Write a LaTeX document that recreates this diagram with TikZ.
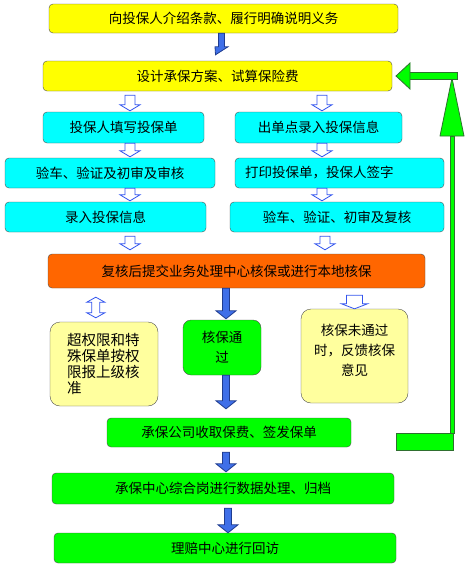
\documentclass[tikz,border=0pt]{standalone}
\usepackage{fontspec}
\newfontfamily\cjk{Noto Sans CJK SC}
\usetikzlibrary{calc}

\definecolor{boxyellow}{HTML}{FFFF00}
\definecolor{paleyellow}{HTML}{FFFF9E}
\definecolor{boxcyan}{HTML}{00FFFF}
\definecolor{boxorange}{HTML}{FF6600}
\definecolor{boxgreen}{HTML}{00FF00}
\definecolor{darkgreen}{HTML}{2F6F2F}
\definecolor{arrowblue}{HTML}{3F6FE8}
\definecolor{edgeblue}{HTML}{1F3C8F}
\definecolor{hollowblue}{HTML}{3355EE}
\definecolor{edgegray}{HTML}{4F4F4F}

\tikzset{
  box/.style={draw=edgegray, rounded corners=4pt, inner sep=0pt,
    font=\cjk\fontsize{13.5pt}{16pt}\selectfont},
  blk/.style n args={3}{to path={let \p1=(\tikztostart), \p2=(\tikztotarget) in
    (\x1-#1,\y1) -- (\x1+#1,\y1) -- (\x1+#1,\y2+#3) -- (\x1+#2,\y2+#3) -- (\x2,\y2)
    -- (\x1-#2,\y2+#3) -- (\x1-#1,\y2+#3) -- cycle}},
  dblk/.style n args={3}{to path={let \p1=(\tikztostart), \p2=(\tikztotarget) in
    (\x1,\y1) -- (\x1+#2,\y1-#3) -- (\x1+#1,\y1-#3) -- (\x1+#1,\y2+#3) -- (\x1+#2,\y2+#3)
    -- (\x2,\y2) -- (\x1-#2,\y2+#3) -- (\x1-#1,\y2+#3) -- (\x1-#1,\y1-#3) -- (\x1-#2,\y1-#3) -- cycle}},
  hollow/.style={blk={5pt}{10pt}{6pt}, draw=hollowblue, fill=white, line width=0.8pt},
  fatarrow/.style={blk={3.5pt}{10pt}{8pt}, draw=edgeblue, fill=arrowblue, line width=0.8pt},
  fback/.style={draw=darkgreen, fill=boxgreen, line width=0.8pt},
}

\begin{document}
\begin{tikzpicture}[x=1pt,y=-1pt]
\useasboundingbox (0,0) rectangle (465,570);

% upper part
\node (b1) [box, fill=boxyellow, minimum width=349pt, minimum height=29pt] at (223.5,18.5) {向投保人介绍条款、履行明确说明义务};
\node (b2) [box, fill=boxyellow, minimum width=349pt, minimum height=30pt] at (217.5,76) {设计承保方案、试算保险费};
\node (l1) [box, fill=boxcyan, minimum width=161pt, minimum height=31pt] at (123.5,127.5) {投保人填写投保单};
\node (r1) [box, fill=boxcyan, minimum width=167pt, minimum height=31pt] at (318.5,127.5) {出单点录入投保信息};
\node (l2) [box, fill=boxcyan, minimum width=210pt, minimum height=30pt] at (110,173) {验车、验证及初审及审核};
\node (r2) [box, fill=boxcyan, minimum width=209pt, minimum height=30pt, text width=189pt, align=left] at (339.5,173) {打印投保单，投保人签字};
\node (l3) [box, fill=boxcyan, minimum width=201pt, minimum height=30pt] at (105.5,217) {录入投保信息};
\node (r3) [box, fill=boxcyan, minimum width=214pt, minimum height=30pt] at (337,217) {验车、验证、初审及复核};
\node (o) [box, fill=boxorange, minimum width=377pt, minimum height=34pt] at (236.5,271) {复核后提交业务处理中心核保或进行本地核保};

% three results
\node (ly) [box, fill=paleyellow, rounded corners=10pt, minimum width=108pt, minimum height=84pt,
  text width=74pt, align=left, font=\cjk\fontsize{14.5pt}{16pt}\selectfont] at (104,364) {超权限和特\\殊保单按权\\限报上级核\\准};
\node (gm) [box, fill=boxgreen, rounded corners=8pt, minimum width=78pt, minimum height=55pt,
  text width=45pt, align=center, font=\cjk\fontsize{13.5pt}{20pt}\selectfont] at (222,347.5) {核保通\\过};
\node (ry) [box, fill=paleyellow, rounded corners=10pt, minimum width=107pt, minimum height=94pt,
  text width=84pt, align=center, font=\cjk\fontsize{13.5pt}{20pt}\selectfont] at (354.5,356) {核保未通过\\时，反馈核保\\意见\\[-8pt]\mbox{}};

% lower part
\node (g1) [box, fill=boxgreen, minimum width=244pt, minimum height=29pt] at (229,432.5) {承保公司收取保费、签发保单};
\node (g2) [box, fill=boxgreen, minimum width=342pt, minimum height=31pt] at (223,488.5) {承保中心综合岗进行数据处理、归档};
\node (g3) [box, fill=boxgreen, minimum width=342pt, minimum height=30pt] at (225,548) {理赔中心进行回访};

\coordinate (colL) at (130,0);
\coordinate (colR) at (322,0);
\coordinate (colM) at (226,0);

% hollow arrows
\draw[hollow] ([yshift=-4pt]b2.south -| colL) to ([yshift=1pt]l1.north -| colL);
\draw[hollow] ([yshift=-4pt]b2.south -| colR) to ([yshift=1pt]r1.north -| colR);
\draw[hollow] (l1.south -| colL) to ([yshift=1pt]l2.north -| colL);
\draw[hollow] (r1.south -| colR) to ([yshift=1pt]r2.north -| colR);
\draw[hollow] (l2.south -| colL) to ([yshift=1pt]l3.north -| colL);
\draw[hollow] (r2.south -| colR) to ([yshift=1pt]r3.north -| colR);
\draw[hollow] ([yshift=-4pt]l3.south -| colL) to ([yshift=4pt]o.north -| colL);
\draw[hollow] ([yshift=-4pt,xshift=3pt]r3.south -| colR) to ([yshift=4pt,xshift=3pt]o.north -| colR);
\draw[dblk={4pt}{9pt}{5pt}, draw=hollowblue, fill=white, line width=0.8pt]
  ([yshift=-9pt]o.south -| ly.north west) ++(46pt,0) coordinate (dtop)
  (dtop) to ([yshift=4pt]ly.north -| dtop);
\draw[hollow, blk={8pt}{13pt}{5pt}] ([yshift=-7pt]o.south -| ry.north) to (ry.north);

% solid arrows
\draw[fatarrow, blk={3pt}{6.5pt}{8pt}] ([xshift=-2pt]b1.south) to ([xshift=-2pt,yshift=6pt]b2.north);
\draw[fatarrow] (o.south -| colM) to ([yshift=1pt]gm.north -| colM);
\draw[fatarrow] (gm.south -| colM) to ([yshift=9pt]g1.north -| colM);
\draw[fatarrow] ([yshift=-5pt]g1.south -| colM) to ([yshift=1pt]g2.north -| colM);
\draw[fatarrow] ([yshift=-4pt,xshift=2pt]g2.south -| colM) to ([xshift=2pt]g3.north -| colM);

% green feedback arrow
\draw[fback] (450,433) rectangle (454,136);
\draw[fback] (396,433) rectangle (453,450);
\draw[fback] (452,78) -- (464,136) -- (440,136) -- cycle;
\draw[fback] (409,72) rectangle (457,79);
\draw[fback] (396,76) -- (410,63) -- (410,89) -- cycle;
\end{tikzpicture}
\end{document}
